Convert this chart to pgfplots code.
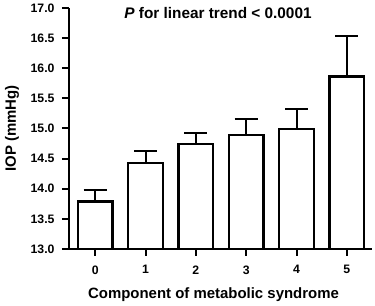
\documentclass[border=0pt]{standalone}
\usepackage{pgfplots}
\pgfplotsset{compat=1.18}
\usepackage{fontspec}
\setmainfont{Liberation Sans}
\pgfplotstableread{
x y e
0 13.79 0.19
1 14.43 0.19
2 14.74 0.19
3 14.89 0.27
4 14.99 0.34
5 15.86 0.67
}\iopdata
\begin{document}
\begin{tikzpicture}
\begin{axis}[
  scale only axis,
  width=303bp, height=241bp,
  xmin=-0.52, xmax=5.5,
  ymin=13, ymax=17,
  ytick={13,13.5,...,17},
  xtick={0,1,2,3,4,5},
  xticklabels={0,1,2,3,4,5},
  axis x line*=bottom,
  axis y line*=left,
  axis line style={-, line width=2bp, black},
  tick style={line width=2bp, black},
  major tick length=7bp,
  tick align=outside,
  ybar, bar width=0.69,
  clip=false,
  yticklabel style={font=\bfseries\fontsize{12.3}{14}\selectfont, xshift=-4bp, /pgf/number format/.cd, fixed, fixed zerofill, precision=1, assume math mode=true},
  xticklabel style={font=\bfseries\fontsize{12.3}{14}\selectfont, yshift=-6bp},
  ylabel={IOP (mmHg)},
  xlabel={Component of metabolic syndrome},
  label style={font=\bfseries\fontsize{15}{18}\selectfont},
  ylabel style={at={(axis description cs:-0.188,0.5)}, anchor=center},
  xlabel style={at={(axis description cs:0.5,0)}, anchor=base, yshift=-50bp, xshift=-7bp},
]
\addplot[ybar, fill=white, draw=black, line width=2.5bp,
  error bars/.cd, y dir=plus, y explicit,
  error bar style={line width=2bp, black},
  error mark options={rotate=90, mark size=11.5bp, line width=2bp, black}]
  table[x=x, y=y, y error=e] {\iopdata};
\node[anchor=base, font=\bfseries\fontsize{15.4}{18}\selectfont] at (axis description cs:0.5,1) [yshift=-10.6bp, xshift=-2.5bp] {\itshape P\upshape\ for linear trend \textless\ 0.0001};
\coordinate (O) at (axis description cs:0,0);
\end{axis}
\path (O) ++(-69bp,-55bp) rectangle ++(375bp,304bp);
\end{tikzpicture}
\end{document}
